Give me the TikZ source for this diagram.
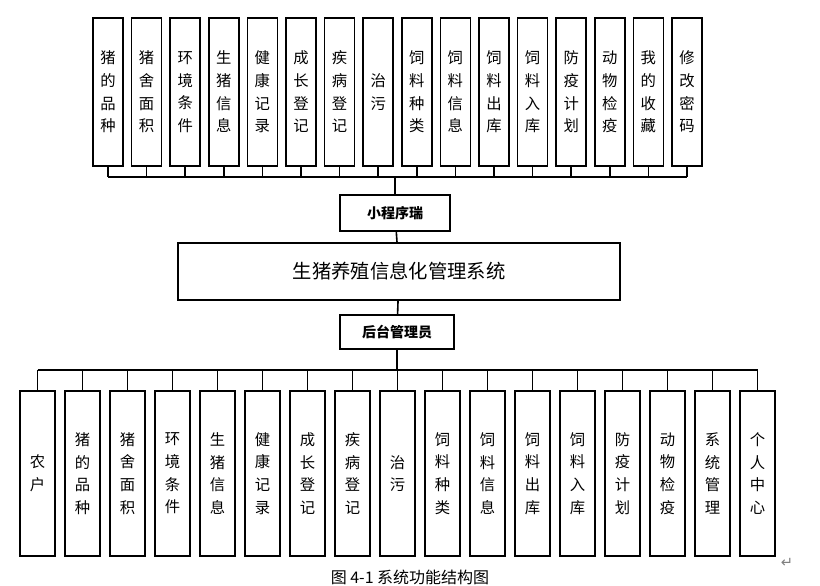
\documentclass[tikz,border=0pt]{standalone}
\usepackage{fontspec}
\setmainfont{Noto Sans CJK SC}
\newfontfamily\djv{DejaVu Sans}
\begin{document}
\begin{tikzpicture}[x=0.75pt,y=-0.75pt,
  leaf/.style={draw,line width=1.2pt,minimum width=30*0.75pt,minimum height=148*0.75pt,inner sep=0pt,font=\fontsize{11.5}{17}\selectfont,align=center},
  leafb/.style={leaf,minimum width=35*0.75pt,minimum height=165*0.75pt},
  mid/.style={draw,line width=1pt,inner sep=0pt,font=\fontsize{10.5}{12}\selectfont\bfseries},
  bus/.style={line width=1.2pt}]
\useasboundingbox (0,0) rectangle (820,585);
\fill[white] (0,0) rectangle (820,585);
\node[draw,line width=0.8pt,minimum width=442*0.75pt,minimum height=57*0.75pt,font=\fontsize{14.5}{16}\selectfont] (sys) at (399,271.5) {生猪养殖信息化管理系统};
\node[mid,minimum width=110*0.75pt,minimum height=36*0.75pt] (app) at (395,213) {小程序瑞};
\node[mid,minimum width=114*0.75pt,minimum height=34*0.75pt] (adm) at (397,332) {后台管理员};
\draw[bus] (app) -- (sys);
\draw[bus] (sys) -- (adm);
\foreach \t [count=\i from 0] in {猪\\的\\品\\种,猪\\舍\\面\\积,环\\境\\条\\件,生\\猪\\信\\息,健\\康\\记\\录,成\\长\\登\\记,疾\\病\\登\\记,治\\污,饲\\料\\种\\类,饲\\料\\信\\息,饲\\料\\出\\库,饲\\料\\入\\库,防\\疫\\计\\划,动\\物\\检\\疫,我\\的\\收\\藏,修\\改\\密\\码}{
  \node[leaf] (t\i) at (108+38.6*\i,92) {\t};
  \coordinate (tb\i) at (108+38.6*\i,177);
  \draw[bus] (t\i) -- (tb\i);
}
\coordinate (tj) at (395,177);
\draw[bus] (tb0) -- (tb15);
\draw[bus] (tj) -- (app);
\foreach \t [count=\i from 0] in {农\\户,猪\\的\\品\\种,猪\\舍\\面\\积,环\\境\\条\\件,生\\猪\\信\\息,健\\康\\记\\录,成\\长\\登\\记,疾\\病\\登\\记,治\\污,饲\\料\\种\\类,饲\\料\\信\\息,饲\\料\\出\\库,饲\\料\\入\\库,防\\疫\\计\\划,动\\物\\检\\疫,系\\统\\管\\理,个\\人\\中\\心}{
  \node[leafb] (b\i) at (37.5+45*\i,473.5) {\t};
  \coordinate (bb\i) at (37.5+45*\i,370);
  \draw[bus] (bb\i) -- (b\i);
}
\coordinate (bj) at (397,370);
\draw[bus] (bb0) -- (bb16);
\draw[line width=2pt] (adm) -- (bj);
\node[font=\djv\fontsize{11}{13}\selectfont,text=gray] (ret) at (787,563) {↵};
\node[font=\fontsize{12}{14}\selectfont,anchor=north,inner sep=1pt] (cap) at (410,568) {图 4-1 系统功能结构图};
\end{tikzpicture}
\end{document}
